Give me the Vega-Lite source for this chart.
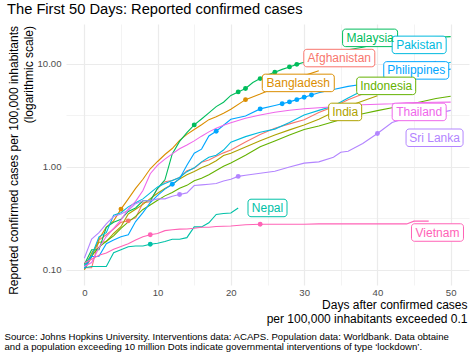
{
  "$schema": "https://vega.github.io/schema/vega-lite/v6.json",
  "width": 403,
  "height": 261,
  "autosize": "none",
  "padding": {"left": 66, "top": 24, "right": 5, "bottom": 70},
  "background": "white",
  "config": {"view": {"stroke": null}, "font": "Liberation Sans"},
  "title": {"text": "The First 50 Days: Reported confirmed cases", "anchor": "start", "frame": "group", "dx": -59, "dy": 12, "offset": 7.5, "baseline": "alphabetic", "fontSize": 14.7, "fontWeight": "normal", "color": "black", "font": "Liberation Sans"},
  "datasets": {
    "cases": [
      {"c":"Afghanistan","d":0,"v":0.105},{"c":"Afghanistan","d":1,"v":0.105},{"c":"Afghanistan","d":2,"v":0.195},{"c":"Afghanistan","d":3,"v":0.22},{"c":"Afghanistan","d":4,"v":0.25},{"c":"Afghanistan","d":5,"v":0.29},{"c":"Afghanistan","d":6,"v":0.30,"l":1},{"c":"Afghanistan","d":7,"v":0.32},{"c":"Afghanistan","d":8,"v":0.45},{"c":"Afghanistan","d":9,"v":0.46},{"c":"Afghanistan","d":10,"v":0.62},{"c":"Afghanistan","d":11,"v":0.72},{"c":"Afghanistan","d":12,"v":0.74},{"c":"Afghanistan","d":13,"v":0.79},{"c":"Afghanistan","d":14,"v":0.92},{"c":"Afghanistan","d":15,"v":0.97},{"c":"Afghanistan","d":16,"v":1.11},{"c":"Afghanistan","d":17,"v":1.17},{"c":"Afghanistan","d":18,"v":1.27},{"c":"Afghanistan","d":19,"v":1.37},{"c":"Afghanistan","d":20,"v":1.46},{"c":"Afghanistan","d":22,"v":1.75},{"c":"Afghanistan","d":24,"v":2.06},{"c":"Afghanistan","d":26,"v":2.38},{"c":"Afghanistan","d":28,"v":2.62},{"c":"Afghanistan","d":30,"v":2.87},{"c":"Afghanistan","d":32,"v":3.37},{"c":"Afghanistan","d":34,"v":3.85},{"c":"Afghanistan","d":36,"v":4.48},{"c":"Afghanistan","d":38,"v":5.10},{"c":"Afghanistan","d":40,"v":6.14},{"c":"Afghanistan","d":42,"v":7.12},{"c":"Afghanistan","d":44,"v":8.48},{"c":"Afghanistan","d":46,"v":9.38},{"c":"Afghanistan","d":48,"v":10.6},
      {"c":"Bangladesh","d":0,"v":0.10},{"c":"Bangladesh","d":1,"v":0.134},{"c":"Bangladesh","d":2,"v":0.20},{"c":"Bangladesh","d":3,"v":0.26},{"c":"Bangladesh","d":4,"v":0.30},{"c":"Bangladesh","d":5,"v":0.39,"l":1},{"c":"Bangladesh","d":6,"v":0.49},{"c":"Bangladesh","d":7,"v":0.62},{"c":"Bangladesh","d":8,"v":0.76},{"c":"Bangladesh","d":9,"v":0.96},{"c":"Bangladesh","d":10,"v":1.13},{"c":"Bangladesh","d":11,"v":1.32},{"c":"Bangladesh","d":12,"v":1.51},{"c":"Bangladesh","d":13,"v":1.81},{"c":"Bangladesh","d":14,"v":2.07},{"c":"Bangladesh","d":15,"v":2.31},{"c":"Bangladesh","d":16,"v":2.57},{"c":"Bangladesh","d":17,"v":2.88},{"c":"Bangladesh","d":18,"v":3.07},{"c":"Bangladesh","d":19,"v":3.32},{"c":"Bangladesh","d":20,"v":3.63},{"c":"Bangladesh","d":22,"v":4.5,"l":1},{"c":"Bangladesh","d":24,"v":5.1},{"c":"Bangladesh","d":26,"v":5.85},{"c":"Bangladesh","d":28,"v":6.75},{"c":"Bangladesh","d":30,"v":7.7},{"c":"Bangladesh","d":32,"v":8.6},
      {"c":"India","d":0,"v":0.102},{"c":"India","d":1,"v":0.146},{"c":"India","d":2,"v":0.186},{"c":"India","d":3,"v":0.188},{"c":"India","d":4,"v":0.226},{"c":"India","d":5,"v":0.263},{"c":"India","d":6,"v":0.35},{"c":"India","d":7,"v":0.389},{"c":"India","d":8,"v":0.433},{"c":"India","d":9,"v":0.492},{"c":"India","d":10,"v":0.556},{"c":"India","d":11,"v":0.618},{"c":"India","d":12,"v":0.674},{"c":"India","d":13,"v":0.765},{"c":"India","d":14,"v":0.841},{"c":"India","d":15,"v":0.902},{"c":"India","d":16,"v":0.983},{"c":"India","d":17,"v":1.05},{"c":"India","d":18,"v":1.15},{"c":"India","d":19,"v":1.29},{"c":"India","d":20,"v":1.36},{"c":"India","d":22,"v":1.56},{"c":"India","d":24,"v":1.80},{"c":"India","d":26,"v":2.04},{"c":"India","d":28,"v":2.29},{"c":"India","d":30,"v":2.55},{"c":"India","d":32,"v":2.91},{"c":"India","d":34,"v":3.40},{"c":"India","d":36,"v":3.88},{"c":"India","d":38,"v":4.37},{"c":"India","d":40,"v":4.92},
      {"c":"Indonesia","d":0,"v":0.114},{"c":"Indonesia","d":1,"v":0.137},{"c":"Indonesia","d":2,"v":0.167},{"c":"Indonesia","d":3,"v":0.19},{"c":"Indonesia","d":4,"v":0.214},{"c":"Indonesia","d":5,"v":0.254},{"c":"Indonesia","d":6,"v":0.293},{"c":"Indonesia","d":7,"v":0.331},{"c":"Indonesia","d":8,"v":0.387},{"c":"Indonesia","d":9,"v":0.428},{"c":"Indonesia","d":10,"v":0.476},{"c":"Indonesia","d":11,"v":0.524},{"c":"Indonesia","d":12,"v":0.566},{"c":"Indonesia","d":13,"v":0.621},{"c":"Indonesia","d":14,"v":0.663},{"c":"Indonesia","d":15,"v":0.735},{"c":"Indonesia","d":16,"v":0.775},{"c":"Indonesia","d":17,"v":0.842},{"c":"Indonesia","d":18,"v":0.923},{"c":"Indonesia","d":19,"v":1.014},{"c":"Indonesia","d":20,"v":1.095},{"c":"Indonesia","d":22,"v":1.30},{"c":"Indonesia","d":24,"v":1.57},{"c":"Indonesia","d":26,"v":1.79},{"c":"Indonesia","d":28,"v":2.04},{"c":"Indonesia","d":30,"v":2.31},{"c":"Indonesia","d":32,"v":2.50},{"c":"Indonesia","d":34,"v":2.75},{"c":"Indonesia","d":36,"v":3.04},{"c":"Indonesia","d":38,"v":3.29},{"c":"Indonesia","d":40,"v":3.52},{"c":"Indonesia","d":42,"v":3.75},{"c":"Indonesia","d":44,"v":4.02},{"c":"Indonesia","d":46,"v":4.29},{"c":"Indonesia","d":48,"v":4.61},{"c":"Indonesia","d":50,"v":4.86},
      {"c":"Malaysia","d":0,"v":0.113},{"c":"Malaysia","d":1,"v":0.157},{"c":"Malaysia","d":2,"v":0.157},{"c":"Malaysia","d":3,"v":0.26},{"c":"Malaysia","d":4,"v":0.29},{"c":"Malaysia","d":5,"v":0.31},{"c":"Malaysia","d":6,"v":0.37},{"c":"Malaysia","d":7,"v":0.40},{"c":"Malaysia","d":8,"v":0.47},{"c":"Malaysia","d":9,"v":0.47},{"c":"Malaysia","d":10,"v":0.62},{"c":"Malaysia","d":11,"v":0.75},{"c":"Malaysia","d":12,"v":1.34},{"c":"Malaysia","d":13,"v":1.77},{"c":"Malaysia","d":14,"v":2.15},{"c":"Malaysia","d":15,"v":2.56,"l":1},{"c":"Malaysia","d":16,"v":2.92},{"c":"Malaysia","d":17,"v":3.35},{"c":"Malaysia","d":18,"v":3.85},{"c":"Malaysia","d":19,"v":4.25},{"c":"Malaysia","d":20,"v":4.95},{"c":"Malaysia","d":21,"v":5.35,"l":1},{"c":"Malaysia","d":22,"v":5.78,"l":1},{"c":"Malaysia","d":23,"v":6.6},{"c":"Malaysia","d":24,"v":7.2,"l":1},{"c":"Malaysia","d":25,"v":7.8},{"c":"Malaysia","d":26,"v":8.3,"l":1},{"c":"Malaysia","d":27,"v":8.85},{"c":"Malaysia","d":28,"v":9.35,"l":1},{"c":"Malaysia","d":29,"v":9.9,"l":1},{"c":"Malaysia","d":30,"v":10.4},{"c":"Malaysia","d":32,"v":11.6},{"c":"Malaysia","d":34,"v":12.6},{"c":"Malaysia","d":36,"v":13.7},{"c":"Malaysia","d":38,"v":14.5},{"c":"Malaysia","d":40,"v":15.6},{"c":"Malaysia","d":42,"v":16.6},{"c":"Malaysia","d":44,"v":17.2},{"c":"Malaysia","d":46,"v":17.7},{"c":"Malaysia","d":48,"v":18.1},{"c":"Malaysia","d":50,"v":18.4},
      {"c":"Nepal","d":0,"v":0.105},{"c":"Nepal","d":1,"v":0.108},{"c":"Nepal","d":2,"v":0.108},{"c":"Nepal","d":3,"v":0.108},{"c":"Nepal","d":4,"v":0.147},{"c":"Nepal","d":5,"v":0.157},{"c":"Nepal","d":6,"v":0.168},{"c":"Nepal","d":7,"v":0.171},{"c":"Nepal","d":8,"v":0.171},{"c":"Nepal","d":9,"v":0.178,"l":1},{"c":"Nepal","d":10,"v":0.182},{"c":"Nepal","d":11,"v":0.189},{"c":"Nepal","d":12,"v":0.199},{"c":"Nepal","d":13,"v":0.199},{"c":"Nepal","d":14,"v":0.206},{"c":"Nepal","d":15,"v":0.262},{"c":"Nepal","d":16,"v":0.262},{"c":"Nepal","d":17,"v":0.287},{"c":"Nepal","d":18,"v":0.346},{"c":"Nepal","d":19,"v":0.353},{"c":"Nepal","d":20,"v":0.357},{"c":"Nepal","d":21,"v":0.40},
      {"c":"Pakistan","d":0,"v":0.109},{"c":"Pakistan","d":1,"v":0.138},{"c":"Pakistan","d":2,"v":0.21},{"c":"Pakistan","d":3,"v":0.23},{"c":"Pakistan","d":4,"v":0.34},{"c":"Pakistan","d":5,"v":0.36},{"c":"Pakistan","d":6,"v":0.41},{"c":"Pakistan","d":7,"v":0.45},{"c":"Pakistan","d":8,"v":0.49},{"c":"Pakistan","d":9,"v":0.56},{"c":"Pakistan","d":10,"v":0.64},{"c":"Pakistan","d":11,"v":0.69},{"c":"Pakistan","d":12,"v":0.74},{"c":"Pakistan","d":13,"v":0.79},{"c":"Pakistan","d":14,"v":0.90},{"c":"Pakistan","d":15,"v":0.98},{"c":"Pakistan","d":16,"v":1.12},{"c":"Pakistan","d":17,"v":1.24},{"c":"Pakistan","d":18,"v":1.30},{"c":"Pakistan","d":19,"v":1.46},{"c":"Pakistan","d":20,"v":1.74},{"c":"Pakistan","d":22,"v":1.97},{"c":"Pakistan","d":24,"v":2.17},{"c":"Pakistan","d":26,"v":2.33},{"c":"Pakistan","d":28,"v":2.70},{"c":"Pakistan","d":30,"v":3.20},{"c":"Pakistan","d":32,"v":3.54},{"c":"Pakistan","d":34,"v":3.90},{"c":"Pakistan","d":36,"v":4.66},{"c":"Pakistan","d":38,"v":5.53},{"c":"Pakistan","d":40,"v":6.17},{"c":"Pakistan","d":42,"v":6.76},{"c":"Pakistan","d":44,"v":7.79},{"c":"Pakistan","d":46,"v":8.39},{"c":"Pakistan","d":48,"v":9.30},{"c":"Pakistan","d":50,"v":10.38},
      {"c":"Philippines","d":0,"v":0.103},{"c":"Philippines","d":1,"v":0.135},{"c":"Philippines","d":2,"v":0.136},{"c":"Philippines","d":3,"v":0.18},{"c":"Philippines","d":4,"v":0.195},{"c":"Philippines","d":5,"v":0.21},{"c":"Philippines","d":6,"v":0.22},{"c":"Philippines","d":7,"v":0.295},{"c":"Philippines","d":8,"v":0.36},{"c":"Philippines","d":9,"v":0.45},{"c":"Philippines","d":10,"v":0.53},{"c":"Philippines","d":11,"v":0.61},{"c":"Philippines","d":12,"v":0.68,"l":1},{"c":"Philippines","d":13,"v":0.77},{"c":"Philippines","d":14,"v":1.04},{"c":"Philippines","d":15,"v":1.36},{"c":"Philippines","d":16,"v":1.49},{"c":"Philippines","d":17,"v":2.0},{"c":"Philippines","d":18,"v":2.22,"l":1},{"c":"Philippines","d":19,"v":2.54},{"c":"Philippines","d":20,"v":2.9},{"c":"Philippines","d":22,"v":3.12},{"c":"Philippines","d":24,"v":3.66,"l":1},{"c":"Philippines","d":26,"v":3.95},{"c":"Philippines","d":27,"v":4.1,"l":1},{"c":"Philippines","d":28,"v":4.28,"l":1},{"c":"Philippines","d":29,"v":4.5,"l":1},{"c":"Philippines","d":30,"v":4.75,"l":1},{"c":"Philippines","d":31,"v":5.0,"l":1},{"c":"Philippines","d":32,"v":5.25},{"c":"Philippines","d":34,"v":5.65},{"c":"Philippines","d":36,"v":6.05},{"c":"Philippines","d":38,"v":6.35},{"c":"Philippines","d":40,"v":6.7},{"c":"Philippines","d":42,"v":7.0},{"c":"Philippines","d":44,"v":7.5},{"c":"Philippines","d":46,"v":7.9},{"c":"Philippines","d":48,"v":8.45},{"c":"Philippines","d":50,"v":8.9},
      {"c":"Sri Lanka","d":0,"v":0.13},{"c":"Sri Lanka","d":1,"v":0.20},{"c":"Sri Lanka","d":2,"v":0.23},{"c":"Sri Lanka","d":3,"v":0.28},{"c":"Sri Lanka","d":4,"v":0.33},{"c":"Sri Lanka","d":5,"v":0.35},{"c":"Sri Lanka","d":6,"v":0.38},{"c":"Sri Lanka","d":7,"v":0.44},{"c":"Sri Lanka","d":8,"v":0.47},{"c":"Sri Lanka","d":9,"v":0.47},{"c":"Sri Lanka","d":10,"v":0.49},{"c":"Sri Lanka","d":11,"v":0.49},{"c":"Sri Lanka","d":12,"v":0.52},{"c":"Sri Lanka","d":13,"v":0.54,"l":1},{"c":"Sri Lanka","d":14,"v":0.56},{"c":"Sri Lanka","d":15,"v":0.66},{"c":"Sri Lanka","d":16,"v":0.67},{"c":"Sri Lanka","d":17,"v":0.68},{"c":"Sri Lanka","d":18,"v":0.69},{"c":"Sri Lanka","d":19,"v":0.73},{"c":"Sri Lanka","d":20,"v":0.76},{"c":"Sri Lanka","d":21,"v":0.81,"l":1},{"c":"Sri Lanka","d":22,"v":0.83},{"c":"Sri Lanka","d":24,"v":0.87},{"c":"Sri Lanka","d":26,"v":0.91},{"c":"Sri Lanka","d":28,"v":1.0},{"c":"Sri Lanka","d":30,"v":1.09},{"c":"Sri Lanka","d":32,"v":1.12},{"c":"Sri Lanka","d":34,"v":1.24},{"c":"Sri Lanka","d":35,"v":1.39},{"c":"Sri Lanka","d":36,"v":1.42},{"c":"Sri Lanka","d":38,"v":1.69},{"c":"Sri Lanka","d":40,"v":2.11,"l":1},{"c":"Sri Lanka","d":42,"v":2.70},{"c":"Sri Lanka","d":44,"v":2.98},{"c":"Sri Lanka","d":46,"v":3.17},{"c":"Sri Lanka","d":48,"v":3.29},{"c":"Sri Lanka","d":50,"v":3.54},
      {"c":"Thailand","d":0,"v":0.108},{"c":"Thailand","d":1,"v":0.118},{"c":"Thailand","d":2,"v":0.164},{"c":"Thailand","d":3,"v":0.211},{"c":"Thailand","d":4,"v":0.254},{"c":"Thailand","d":5,"v":0.305},{"c":"Thailand","d":6,"v":0.391},{"c":"Thailand","d":7,"v":0.463},{"c":"Thailand","d":8,"v":0.59},{"c":"Thailand","d":9,"v":0.86},{"c":"Thailand","d":10,"v":1.04},{"c":"Thailand","d":11,"v":1.19},{"c":"Thailand","d":12,"v":1.34},{"c":"Thailand","d":13,"v":1.50},{"c":"Thailand","d":14,"v":1.63},{"c":"Thailand","d":15,"v":1.79},{"c":"Thailand","d":16,"v":1.99},{"c":"Thailand","d":17,"v":2.19},{"c":"Thailand","d":18,"v":2.37},{"c":"Thailand","d":19,"v":2.54},{"c":"Thailand","d":20,"v":2.69},{"c":"Thailand","d":22,"v":2.97},{"c":"Thailand","d":24,"v":3.19},{"c":"Thailand","d":26,"v":3.40},{"c":"Thailand","d":28,"v":3.55},{"c":"Thailand","d":30,"v":3.67},{"c":"Thailand","d":32,"v":3.75},{"c":"Thailand","d":34,"v":3.84},{"c":"Thailand","d":36,"v":3.93},{"c":"Thailand","d":38,"v":4.01},{"c":"Thailand","d":40,"v":4.06},{"c":"Thailand","d":42,"v":4.10},{"c":"Thailand","d":44,"v":4.20},{"c":"Thailand","d":46,"v":4.22},{"c":"Thailand","d":48,"v":4.24},{"c":"Thailand","d":50,"v":4.26},
      {"c":"Vietnam","d":0,"v":0.117},{"c":"Vietnam","d":1,"v":0.127},{"c":"Vietnam","d":2,"v":0.139},{"c":"Vietnam","d":3,"v":0.146},{"c":"Vietnam","d":4,"v":0.159},{"c":"Vietnam","d":5,"v":0.169},{"c":"Vietnam","d":6,"v":0.18},{"c":"Vietnam","d":7,"v":0.195},{"c":"Vietnam","d":8,"v":0.21},{"c":"Vietnam","d":9,"v":0.22,"l":1},{"c":"Vietnam","d":10,"v":0.226},{"c":"Vietnam","d":11,"v":0.241},{"c":"Vietnam","d":12,"v":0.246},{"c":"Vietnam","d":13,"v":0.249},{"c":"Vietnam","d":14,"v":0.25},{"c":"Vietnam","d":15,"v":0.254},{"c":"Vietnam","d":16,"v":0.26},{"c":"Vietnam","d":17,"v":0.26},{"c":"Vietnam","d":18,"v":0.264},{"c":"Vietnam","d":19,"v":0.266},{"c":"Vietnam","d":20,"v":0.267},{"c":"Vietnam","d":22,"v":0.275},{"c":"Vietnam","d":24,"v":0.278,"l":1},{"c":"Vietnam","d":26,"v":0.278},{"c":"Vietnam","d":28,"v":0.278},{"c":"Vietnam","d":30,"v":0.278},{"c":"Vietnam","d":32,"v":0.28},{"c":"Vietnam","d":34,"v":0.28},{"c":"Vietnam","d":36,"v":0.28},{"c":"Vietnam","d":38,"v":0.28},{"c":"Vietnam","d":40,"v":0.28},{"c":"Vietnam","d":42,"v":0.28},{"c":"Vietnam","d":44,"v":0.28},{"c":"Vietnam","d":45,"v":0.298},{"c":"Vietnam","d":47,"v":0.298}
    ],
    "labels": [
      {"c":"Malaysia","d":39.0,"v":17.9},
      {"c":"Pakistan","d":45.7,"v":15.3},
      {"c":"Afghanistan","d":34.8,"v":11.4},
      {"c":"Philippines","d":45.3,"v":8.65},
      {"c":"Bangladesh","d":29.2,"v":6.54},
      {"c":"Indonesia","d":41.2,"v":6.12},
      {"c":"India","d":35.6,"v":3.42},
      {"c":"Thailand","d":45.7,"v":3.42},
      {"c":"Sri Lanka","d":47.8,"v":1.92},
      {"c":"Nepal","d":25.0,"v":0.40},
      {"c":"Vietnam","d":48.2,"v":0.231}
    ]
  },
  "data": {"name": "cases"},
  "layer": [
    {
      "mark": {"type": "line", "strokeWidth": 1.1, "clip": true},
      "encoding": {
        "x": {"field": "d", "type": "quantitative",
          "scale": {"domain": [-2.5, 52.5], "nice": false, "zero": false},
          "axis": {"orient": "bottom", "values": [0,5,10,15,20,25,30,35,40,45,50], "labelExpr": "datum.value % 10 === 0 ? datum.label : ''", "labelOverlap": false, "labelFlush": false, "grid": true, "gridColor": "#EBEBEB", "gridWidth": {"condition": {"test": "datum.value % 10 === 0", "value": 1.2}, "value": 0.6}, "domain": false, "ticks": false, "labelFontSize": 9.6, "labelColor": "#4D4D4D", "labelPadding": 2,
            "title": ["Days after confirmed cases", "per 100,000 inhabitants exceeded 0.1"], "titleFontSize": 12, "titleFontWeight": "normal", "titleColor": "black", "titleAlign": "right", "titleAnchor": "end", "titleX": 401, "titleY": 23.5, "titleBaseline": "alphabetic", "titleLineHeight": 14}},
        "y": {"field": "v", "type": "quantitative",
          "scale": {"type": "log", "domain": [0.0715, 24.4], "nice": false},
          "axis": {"orient": "left", "values": [0.1, 0.3162, 1, 3.162, 10], "labelExpr": "(datum.value < 0.2 || (datum.value > 0.9 && datum.value < 1.1) || datum.value > 9) ? format(datum.value, '.2f') : ''", "labelOverlap": false, "labelFlush": false, "grid": true, "gridColor": "#EBEBEB", "gridWidth": {"condition": {"test": "datum.value < 0.2 || (datum.value > 0.9 && datum.value < 1.1) || datum.value > 9", "value": 1.2}, "value": 0.6}, "domain": false, "ticks": false, "labelFontSize": 9.6, "labelColor": "#4D4D4D", "labelPadding": 5,
            "title": ["Reported confirmed cases per 100,000 inhabitants", "(logarithmic scale)"], "titleFontSize": 12, "titleFontWeight": "normal", "titleColor": "black", "titleX": -48.5, "titleY": 1.5, "titleAngle": -90, "titleAlign": "right", "titleAnchor": "end", "titleBaseline": "alphabetic", "titleLineHeight": 14.5}},
        "color": {"field": "c", "type": "nominal",
          "scale": {"domain": ["Afghanistan","Bangladesh","India","Indonesia","Malaysia","Nepal","Pakistan","Philippines","Sri Lanka","Thailand","Vietnam"],
                    "range": ["#F8766D","#DB8E00","#AEA200","#64B200","#00BD5C","#00C1A7","#00BADE","#00A6FF","#B385FF","#EF67EB","#FF63B6"]},
          "legend": null}
      }
    },
    {
      "transform": [{"filter": "datum.l === 1"}],
      "mark": {"type": "circle", "size": 24, "opacity": 1},
      "encoding": {
        "x": {"field": "d", "type": "quantitative",
          "axis": {"orient": "bottom", "grid": false, "domain": false, "ticks": false, "labels": false,
            "title": ["Source: Johns Hopkins University. Interventions data: ACAPS. Population data: Worldbank. Data obtaine", "and a population exceeding 10 million Dots indicate governmental interventions of type ‘lockdown’."],
            "titleFontSize": 9.6, "titleFontWeight": "normal", "titleColor": "black", "titleAlign": "left", "titleAnchor": "start", "titleX": -62, "titleY": 54.3, "titleBaseline": "alphabetic", "titleLineHeight": 10}},
        "y": {"field": "v", "type": "quantitative", "axis": null},
        "color": {"field": "c", "type": "nominal", "legend": null}
      }
    },
    {
      "data": {"name": "labels"},
      "mark": {"type": "rect", "width": {"expr": "({'Malaysia':55,'Pakistan':54,'Afghanistan':71,'Philippines':65,'Bangladesh':72,'Indonesia':59,'India':33,'Thailand':54,'Sri Lanka':57,'Nepal':39,'Vietnam':52})[datum.c]"}, "height": 17.5, "fill": "white", "strokeWidth": 1, "cornerRadius": 3},
      "encoding": {
        "x": {"field": "d", "type": "quantitative", "axis": null},
        "y": {"field": "v", "type": "quantitative", "axis": null},
        "stroke": {"field": "c", "type": "nominal",
          "scale": {"domain": ["Afghanistan","Bangladesh","India","Indonesia","Malaysia","Nepal","Pakistan","Philippines","Sri Lanka","Thailand","Vietnam"],
                    "range": ["#F8766D","#DB8E00","#AEA200","#64B200","#00BD5C","#00C1A7","#00BADE","#00A6FF","#B385FF","#EF67EB","#FF63B6"]},
          "legend": null}
      }
    },
    {
      "data": {"name": "labels"},
      "mark": {"type": "text", "fontSize": 12, "align": "center", "baseline": "middle", "font": "Liberation Sans"},
      "encoding": {
        "x": {"field": "d", "type": "quantitative", "axis": null},
        "y": {"field": "v", "type": "quantitative", "axis": null},
        "text": {"field": "c"},
        "color": {"field": "c", "type": "nominal", "legend": null}
      }
    }
  ],
  "resolve": {"axis": {"x": "independent", "y": "independent"}}
}
